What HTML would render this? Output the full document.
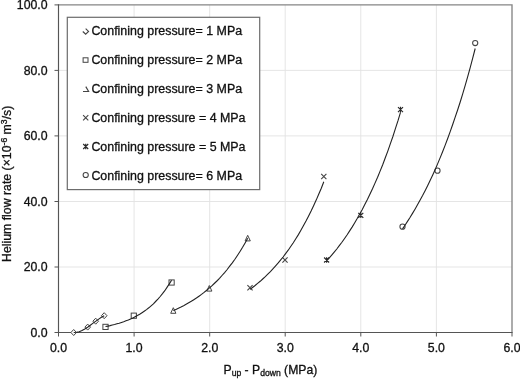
<!DOCTYPE html>
<html><head><meta charset="utf-8"><title>chart</title>
<style>
html,body{margin:0;padding:0;background:#fff;}
body{width:520px;height:379px;overflow:hidden;}
svg{display:block;font-family:"Liberation Sans",sans-serif;fill:#111;}
text{stroke:#111;stroke-width:0.3px;}
</style></head><body>
<svg width="520" height="379" viewBox="0 0 520 379">
<rect width="520" height="379" fill="#fff"/>
<path d="M134.1 4.9V332.5M209.7 4.9V332.5M285.2 4.9V332.5M360.8 4.9V332.5M436.4 4.9V332.5M58.5 267.0H512.0M58.5 201.5H512.0M58.5 135.9H512.0M58.5 70.4H512.0" stroke="#e2e2e2" stroke-width="0.9" fill="none"/>
<path d="M58.5 4.9H512.0V332.5" fill="none" stroke="#858585" stroke-width="1.35"/>
<path d="M58.5 4.3V332.5H512.6" fill="none" stroke="#555" stroke-width="1.15"/>
<path d="M58.5 332.5v4M134.1 332.5v4M209.7 332.5v4M285.2 332.5v4M360.8 332.5v4M436.4 332.5v4M512.0 332.5v4M58.5 332.5h-4M58.5 267.0h-4M58.5 201.5h-4M58.5 135.9h-4M58.5 70.4h-4M58.5 4.9h-4" stroke="#555" stroke-width="1" fill="none"/>
<text x="58.5" y="351.6" font-size="12.3" text-anchor="middle">0.0</text>
<text x="134.1" y="351.6" font-size="12.3" text-anchor="middle">1.0</text>
<text x="209.7" y="351.6" font-size="12.3" text-anchor="middle">2.0</text>
<text x="285.2" y="351.6" font-size="12.3" text-anchor="middle">3.0</text>
<text x="360.8" y="351.6" font-size="12.3" text-anchor="middle">4.0</text>
<text x="436.4" y="351.6" font-size="12.3" text-anchor="middle">5.0</text>
<text x="512.0" y="351.6" font-size="12.3" text-anchor="middle">6.0</text>
<text x="47.6" y="336.9" font-size="12.3" text-anchor="end">0.0</text>
<text x="47.6" y="271.4" font-size="12.3" text-anchor="end">20.0</text>
<text x="47.6" y="205.9" font-size="12.3" text-anchor="end">40.0</text>
<text x="47.6" y="140.3" font-size="12.3" text-anchor="end">60.0</text>
<text x="47.6" y="74.8" font-size="12.3" text-anchor="end">80.0</text>
<text x="47.6" y="8.6" font-size="12.3" text-anchor="end">100.0</text>
<text x="223.5" y="373.5" font-size="12.2">P<tspan dy="2" font-size="8.6">up</tspan><tspan dy="-2" font-size="12.2"> - P</tspan><tspan dy="2" font-size="8.6">down</tspan><tspan dy="-2" font-size="12.2"> (MPa)</tspan></text>
<text transform="translate(10.8,262) rotate(-90)" font-size="12.3">Helium flow rate (×10<tspan dy="-4" font-size="8.6">-6</tspan><tspan dy="4" font-size="12.3"> m</tspan><tspan dy="-4" font-size="8.6">3</tspan><tspan dy="4" font-size="12.3">/s)</tspan></text>
<path d="M70.9 332.5L73.7 329.5L76.5 332.5L73.7 335.5Z" fill="#fff" stroke="#444" stroke-width="1"/>
<path d="M84.9 327.1L87.7 324.1L90.5 327.1L87.7 330.1Z" fill="#fff" stroke="#444" stroke-width="1"/>
<path d="M92.9 321.2L95.7 318.2L98.5 321.2L95.7 324.2Z" fill="#fff" stroke="#444" stroke-width="1"/>
<path d="M101.4 315.7L104.2 312.7L107.0 315.7L104.2 318.7Z" fill="#fff" stroke="#444" stroke-width="1"/>
<rect x="102.9" y="324.3" width="5.2" height="5.2" fill="#fff" stroke="#444" stroke-width="1"/>
<rect x="131.2" y="313.1" width="5.2" height="5.2" fill="#fff" stroke="#444" stroke-width="1"/>
<rect x="169.0" y="279.9" width="5.2" height="5.2" fill="#fff" stroke="#444" stroke-width="1"/>
<path d="M173.3 307.7L175.9 313.3L170.7 313.3Z" fill="#fff" stroke="#444" stroke-width="1"/>
<path d="M209.3 285.5L211.9 291.1L206.7 291.1Z" fill="#fff" stroke="#444" stroke-width="1"/>
<path d="M247.7 235.3L250.3 240.9L245.1 240.9Z" fill="#fff" stroke="#444" stroke-width="1"/>
<path d="M247.4 285.1L252.6 290.3M247.4 290.3L252.6 285.1" fill="none" stroke="#444" stroke-width="1.1"/>
<path d="M282.4 257.4L287.6 262.6M282.4 262.6L287.6 257.4" fill="none" stroke="#444" stroke-width="1.1"/>
<path d="M321.2 173.9L326.4 179.1M321.2 179.1L326.4 173.9" fill="none" stroke="#444" stroke-width="1.1"/>
<path d="M324.1 257.5L329.1 262.5M324.1 262.5L329.1 257.5M326.6 257.2L326.6 262.8" fill="none" stroke="#2a2a2a" stroke-width="1.15"/>
<path d="M358.3 212.8L363.3 217.8M358.3 217.8L363.3 212.8M360.8 212.5L360.8 218.1" fill="none" stroke="#2a2a2a" stroke-width="1.15"/>
<path d="M398.0 107.1L403.0 112.1M398.0 112.1L403.0 107.1M400.5 106.8L400.5 112.4" fill="none" stroke="#2a2a2a" stroke-width="1.15"/>
<circle cx="402.5" cy="226.7" r="2.6" fill="#fff" stroke="#444" stroke-width="1.05"/>
<circle cx="437.5" cy="170.7" r="2.6" fill="#fff" stroke="#444" stroke-width="1.05"/>
<circle cx="475.2" cy="43.0" r="2.6" fill="#fff" stroke="#444" stroke-width="1.05"/>
<path d="M73.7 332.5L76.5 332.3L79.2 331.7L82.0 330.5L84.8 329.0L87.6 327.2L90.3 325.2L93.1 323.1L95.9 321.1L98.7 319.1L101.4 317.3L104.2 315.7" fill="none" stroke="#222" stroke-width="1.1"/>
<path d="M105.5 326.5L107.8 326.1L110.1 325.6L112.3 325.0L114.6 324.5L116.9 323.8L119.2 323.2L121.5 322.4L123.7 321.7L126.0 320.8L128.3 319.9L130.6 318.9L132.9 317.9L135.1 316.7L137.4 315.5L139.7 314.2L142.0 312.7L144.2 311.2L146.5 309.6L148.8 307.8L151.1 305.8L153.4 303.8L155.6 301.5L157.9 299.1L160.2 296.5L162.5 293.7L164.8 290.7L167.0 287.4L169.3 283.9L171.6 280.2" fill="none" stroke="#222" stroke-width="1.1"/>
<path d="M173.3 310.6L175.9 309.4L178.4 308.2L181.0 307.0L183.6 305.7L186.1 304.3L188.7 302.8L191.3 301.3L193.8 299.7L196.4 298.0L199.0 296.2L201.5 294.4L204.1 292.4L206.7 290.3L209.2 288.2L211.8 285.9L214.3 283.5L216.9 281.0L219.5 278.3L222.0 275.5L224.6 272.6L227.2 269.5L229.7 266.2L232.3 262.8L234.9 259.2L237.4 255.5L240.0 251.5L242.6 247.3L245.1 242.9L247.7 238.3" fill="none" stroke="#222" stroke-width="1.1"/>
<path d="M250.0 289.4L252.5 287.5L255.1 285.5L257.6 283.4L260.2 281.3L262.7 279.0L265.3 276.7L267.8 274.2L270.4 271.6L272.9 268.9L275.4 266.1L278.0 263.2L280.5 260.2L283.1 257.0L285.6 253.6L288.2 250.2L290.7 246.5L293.3 242.7L295.8 238.8L298.4 234.6L300.9 230.3L303.4 225.8L306.0 221.1L308.5 216.2L311.1 211.1L313.6 205.7L316.2 200.1L318.7 194.3L321.3 188.2L323.8 181.8" fill="none" stroke="#222" stroke-width="1.1"/>
<path d="M326.6 261.0L329.1 258.2L331.7 255.2L334.2 252.2L336.8 249.0L339.3 245.7L341.9 242.3L344.4 238.7L347.0 235.0L349.5 231.1L352.1 227.1L354.6 223.0L357.2 218.6L359.7 214.1L362.3 209.4L364.8 204.6L367.4 199.5L369.9 194.3L372.5 188.8L375.0 183.1L377.6 177.2L380.1 171.1L382.7 164.7L385.2 158.0L387.8 151.1L390.3 143.9L392.9 136.5L395.4 128.7L398.0 120.7L400.5 112.3" fill="none" stroke="#222" stroke-width="1.1"/>
<path d="M402.5 228.9L405.0 225.2L407.5 221.4L410.0 217.5L412.5 213.4L415.0 209.2L417.5 204.8L420.0 200.3L422.6 195.6L425.1 190.8L427.6 185.8L430.1 180.6L432.6 175.2L435.1 169.7L437.6 163.9L440.1 157.9L442.6 151.8L445.1 145.4L447.6 138.7L450.1 131.9L452.6 124.8L455.1 117.4L457.7 109.8L460.2 102.0L462.7 93.8L465.2 85.4L467.7 76.6L470.2 67.6L472.7 58.2L475.2 48.5" fill="none" stroke="#222" stroke-width="1.1"/>
<rect x="67.3" y="17.3" width="192.4" height="172.3" fill="#fff" stroke="#6c6c6c" stroke-width="1.2"/>
<text x="91.4" y="35.4" font-size="12.42">Confining pressure= 1 MPa</text>
<text x="91.4" y="64.1" font-size="12.42">Confining pressure= 2 MPa</text>
<text x="91.4" y="92.9" font-size="12.42">Confining pressure= 3 MPa</text>
<text x="91.4" y="121.7" font-size="12.42">Confining pressure = 4 MPa</text>
<text x="91.4" y="150.9" font-size="12.42">Confining pressure = 5 MPa</text>
<text x="91.4" y="179.5" font-size="12.42">Confining pressure= 6 MPa</text>
<path d="M85.65 28.6L88.55 31.4L85.65 34.2L82.8 31.5" fill="none" stroke="#444" stroke-width="1.15" stroke-linejoin="miter"/>
<rect x="83.1" y="57.8" width="4.9" height="4.5" fill="#fff" stroke="#444" stroke-width="1"/>
<path d="M85.8 86.6L88.6 91.4L83.0 91.5" fill="none" stroke="#444" stroke-width="1.15"/>
<path d="M83.1 115.2L88.3 120.4M83.1 120.4L88.3 115.2" fill="none" stroke="#444" stroke-width="1.1"/>
<path d="M83.2 144.0L88.2 149.0M83.2 149.0L88.2 144.0M85.7 143.7L85.7 149.3" fill="none" stroke="#2a2a2a" stroke-width="1.15"/>
<circle cx="85.7" cy="175.0" r="2.6" fill="#fff" stroke="#444" stroke-width="1.05"/>
</svg></body></html>
